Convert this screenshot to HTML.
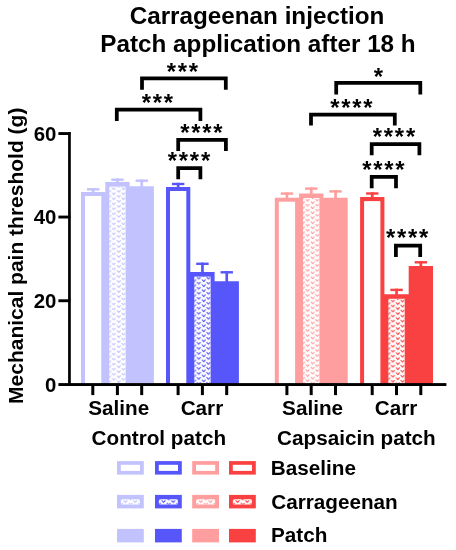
<!DOCTYPE html>
<html><head><meta charset="utf-8"><style>
html,body{margin:0;padding:0;background:#fff;}
svg{display:block;}
text{font-family:"Liberation Sans",Arial,sans-serif;font-weight:bold;fill:#000;}
.t{font-size:24.25px;text-anchor:middle;}
.n{font-size:20.7px;text-anchor:middle;}
.k{font-size:20.4px;text-anchor:end;}
.st{font-size:23.8px;letter-spacing:1.75px;text-anchor:middle;}
.lg{font-size:20.7px;}
</style></head><body>
<svg width="456" height="550" viewBox="0 0 456 550">
<defs>
<pattern id="pL1" patternUnits="userSpaceOnUse" width="9.6" height="5.0125" x="111.40" y="152.35"><path d="M0.90 0.50 L2.40 2.20 L3.90 0.50" fill="none" stroke="#C2C2FF" stroke-width="1.15" stroke-linecap="round" stroke-linejoin="round"/><path d="M5.90 3.01 L7.40 4.71 L8.90 3.01" fill="none" stroke="#C2C2FF" stroke-width="1.15" stroke-linecap="round" stroke-linejoin="round"/><path d="M5.90 -2.01 L7.40 -0.31 L8.90 -2.01" fill="none" stroke="#C2C2FF" stroke-width="1.15" stroke-linecap="round" stroke-linejoin="round"/><path d="M-3.70 3.01 L-2.20 4.71 L-0.70 3.01" fill="none" stroke="#C2C2FF" stroke-width="1.15" stroke-linecap="round" stroke-linejoin="round"/><path d="M-3.70 -2.01 L-2.20 -0.31 L-0.70 -2.01" fill="none" stroke="#C2C2FF" stroke-width="1.15" stroke-linecap="round" stroke-linejoin="round"/><path d="M10.50 0.50 L12.00 2.20 L13.50 0.50" fill="none" stroke="#C2C2FF" stroke-width="1.15" stroke-linecap="round" stroke-linejoin="round"/><path d="M0.90 5.51 L2.40 7.21 L3.90 5.51" fill="none" stroke="#C2C2FF" stroke-width="1.15" stroke-linecap="round" stroke-linejoin="round"/></pattern>
<pattern id="pB2" patternUnits="userSpaceOnUse" width="9.6" height="5.0125" x="196.40" y="151.55"><path d="M0.90 0.50 L2.40 2.20 L3.90 0.50" fill="none" stroke="#5656FA" stroke-width="1.15" stroke-linecap="round" stroke-linejoin="round"/><path d="M5.90 3.01 L7.40 4.71 L8.90 3.01" fill="none" stroke="#5656FA" stroke-width="1.15" stroke-linecap="round" stroke-linejoin="round"/><path d="M5.90 -2.01 L7.40 -0.31 L8.90 -2.01" fill="none" stroke="#5656FA" stroke-width="1.15" stroke-linecap="round" stroke-linejoin="round"/><path d="M-3.70 3.01 L-2.20 4.71 L-0.70 3.01" fill="none" stroke="#5656FA" stroke-width="1.15" stroke-linecap="round" stroke-linejoin="round"/><path d="M-3.70 -2.01 L-2.20 -0.31 L-0.70 -2.01" fill="none" stroke="#5656FA" stroke-width="1.15" stroke-linecap="round" stroke-linejoin="round"/><path d="M10.50 0.50 L12.00 2.20 L13.50 0.50" fill="none" stroke="#5656FA" stroke-width="1.15" stroke-linecap="round" stroke-linejoin="round"/><path d="M0.90 5.51 L2.40 7.21 L3.90 5.51" fill="none" stroke="#5656FA" stroke-width="1.15" stroke-linecap="round" stroke-linejoin="round"/></pattern>
<pattern id="pP3" patternUnits="userSpaceOnUse" width="9.6" height="5.0125" x="305.20" y="148.75"><path d="M0.90 0.50 L2.40 2.20 L3.90 0.50" fill="none" stroke="#FF9E9E" stroke-width="1.15" stroke-linecap="round" stroke-linejoin="round"/><path d="M5.90 3.01 L7.40 4.71 L8.90 3.01" fill="none" stroke="#FF9E9E" stroke-width="1.15" stroke-linecap="round" stroke-linejoin="round"/><path d="M5.90 -2.01 L7.40 -0.31 L8.90 -2.01" fill="none" stroke="#FF9E9E" stroke-width="1.15" stroke-linecap="round" stroke-linejoin="round"/><path d="M-3.70 3.01 L-2.20 4.71 L-0.70 3.01" fill="none" stroke="#FF9E9E" stroke-width="1.15" stroke-linecap="round" stroke-linejoin="round"/><path d="M-3.70 -2.01 L-2.20 -0.31 L-0.70 -2.01" fill="none" stroke="#FF9E9E" stroke-width="1.15" stroke-linecap="round" stroke-linejoin="round"/><path d="M10.50 0.50 L12.00 2.20 L13.50 0.50" fill="none" stroke="#FF9E9E" stroke-width="1.15" stroke-linecap="round" stroke-linejoin="round"/><path d="M0.90 5.51 L2.40 7.21 L3.90 5.51" fill="none" stroke="#FF9E9E" stroke-width="1.15" stroke-linecap="round" stroke-linejoin="round"/></pattern>
<pattern id="pR4" patternUnits="userSpaceOnUse" width="9.6" height="5.0125" x="390.50" y="149.35"><path d="M0.90 0.50 L2.40 2.20 L3.90 0.50" fill="none" stroke="#F94141" stroke-width="1.15" stroke-linecap="round" stroke-linejoin="round"/><path d="M5.90 3.01 L7.40 4.71 L8.90 3.01" fill="none" stroke="#F94141" stroke-width="1.15" stroke-linecap="round" stroke-linejoin="round"/><path d="M5.90 -2.01 L7.40 -0.31 L8.90 -2.01" fill="none" stroke="#F94141" stroke-width="1.15" stroke-linecap="round" stroke-linejoin="round"/><path d="M-3.70 3.01 L-2.20 4.71 L-0.70 3.01" fill="none" stroke="#F94141" stroke-width="1.15" stroke-linecap="round" stroke-linejoin="round"/><path d="M-3.70 -2.01 L-2.20 -0.31 L-0.70 -2.01" fill="none" stroke="#F94141" stroke-width="1.15" stroke-linecap="round" stroke-linejoin="round"/><path d="M10.50 0.50 L12.00 2.20 L13.50 0.50" fill="none" stroke="#F94141" stroke-width="1.15" stroke-linecap="round" stroke-linejoin="round"/><path d="M0.90 5.51 L2.40 7.21 L3.90 5.51" fill="none" stroke="#F94141" stroke-width="1.15" stroke-linecap="round" stroke-linejoin="round"/></pattern>
<pattern id="pL5" patternUnits="userSpaceOnUse" width="9.6" height="5.0125" x="123.20" y="299.75"><path d="M0.90 0.50 L2.40 2.20 L3.90 0.50" fill="none" stroke="#C2C2FF" stroke-width="1.15" stroke-linecap="round" stroke-linejoin="round"/><path d="M5.90 3.01 L7.40 4.71 L8.90 3.01" fill="none" stroke="#C2C2FF" stroke-width="1.15" stroke-linecap="round" stroke-linejoin="round"/><path d="M5.90 -2.01 L7.40 -0.31 L8.90 -2.01" fill="none" stroke="#C2C2FF" stroke-width="1.15" stroke-linecap="round" stroke-linejoin="round"/><path d="M-3.70 3.01 L-2.20 4.71 L-0.70 3.01" fill="none" stroke="#C2C2FF" stroke-width="1.15" stroke-linecap="round" stroke-linejoin="round"/><path d="M-3.70 -2.01 L-2.20 -0.31 L-0.70 -2.01" fill="none" stroke="#C2C2FF" stroke-width="1.15" stroke-linecap="round" stroke-linejoin="round"/><path d="M10.50 0.50 L12.00 2.20 L13.50 0.50" fill="none" stroke="#C2C2FF" stroke-width="1.15" stroke-linecap="round" stroke-linejoin="round"/><path d="M0.90 5.51 L2.40 7.21 L3.90 5.51" fill="none" stroke="#C2C2FF" stroke-width="1.15" stroke-linecap="round" stroke-linejoin="round"/></pattern>
<pattern id="pB6" patternUnits="userSpaceOnUse" width="9.6" height="5.0125" x="161.20" y="299.75"><path d="M0.90 0.50 L2.40 2.20 L3.90 0.50" fill="none" stroke="#5656FA" stroke-width="1.15" stroke-linecap="round" stroke-linejoin="round"/><path d="M5.90 3.01 L7.40 4.71 L8.90 3.01" fill="none" stroke="#5656FA" stroke-width="1.15" stroke-linecap="round" stroke-linejoin="round"/><path d="M5.90 -2.01 L7.40 -0.31 L8.90 -2.01" fill="none" stroke="#5656FA" stroke-width="1.15" stroke-linecap="round" stroke-linejoin="round"/><path d="M-3.70 3.01 L-2.20 4.71 L-0.70 3.01" fill="none" stroke="#5656FA" stroke-width="1.15" stroke-linecap="round" stroke-linejoin="round"/><path d="M-3.70 -2.01 L-2.20 -0.31 L-0.70 -2.01" fill="none" stroke="#5656FA" stroke-width="1.15" stroke-linecap="round" stroke-linejoin="round"/><path d="M10.50 0.50 L12.00 2.20 L13.50 0.50" fill="none" stroke="#5656FA" stroke-width="1.15" stroke-linecap="round" stroke-linejoin="round"/><path d="M0.90 5.51 L2.40 7.21 L3.90 5.51" fill="none" stroke="#5656FA" stroke-width="1.15" stroke-linecap="round" stroke-linejoin="round"/></pattern>
<pattern id="pP7" patternUnits="userSpaceOnUse" width="9.6" height="5.0125" x="198.40" y="299.75"><path d="M0.90 0.50 L2.40 2.20 L3.90 0.50" fill="none" stroke="#FF9E9E" stroke-width="1.15" stroke-linecap="round" stroke-linejoin="round"/><path d="M5.90 3.01 L7.40 4.71 L8.90 3.01" fill="none" stroke="#FF9E9E" stroke-width="1.15" stroke-linecap="round" stroke-linejoin="round"/><path d="M5.90 -2.01 L7.40 -0.31 L8.90 -2.01" fill="none" stroke="#FF9E9E" stroke-width="1.15" stroke-linecap="round" stroke-linejoin="round"/><path d="M-3.70 3.01 L-2.20 4.71 L-0.70 3.01" fill="none" stroke="#FF9E9E" stroke-width="1.15" stroke-linecap="round" stroke-linejoin="round"/><path d="M-3.70 -2.01 L-2.20 -0.31 L-0.70 -2.01" fill="none" stroke="#FF9E9E" stroke-width="1.15" stroke-linecap="round" stroke-linejoin="round"/><path d="M10.50 0.50 L12.00 2.20 L13.50 0.50" fill="none" stroke="#FF9E9E" stroke-width="1.15" stroke-linecap="round" stroke-linejoin="round"/><path d="M0.90 5.51 L2.40 7.21 L3.90 5.51" fill="none" stroke="#FF9E9E" stroke-width="1.15" stroke-linecap="round" stroke-linejoin="round"/></pattern>
<pattern id="pR8" patternUnits="userSpaceOnUse" width="9.6" height="5.0125" x="235.20" y="299.75"><path d="M0.90 0.50 L2.40 2.20 L3.90 0.50" fill="none" stroke="#F94141" stroke-width="1.15" stroke-linecap="round" stroke-linejoin="round"/><path d="M5.90 3.01 L7.40 4.71 L8.90 3.01" fill="none" stroke="#F94141" stroke-width="1.15" stroke-linecap="round" stroke-linejoin="round"/><path d="M5.90 -2.01 L7.40 -0.31 L8.90 -2.01" fill="none" stroke="#F94141" stroke-width="1.15" stroke-linecap="round" stroke-linejoin="round"/><path d="M-3.70 3.01 L-2.20 4.71 L-0.70 3.01" fill="none" stroke="#F94141" stroke-width="1.15" stroke-linecap="round" stroke-linejoin="round"/><path d="M-3.70 -2.01 L-2.20 -0.31 L-0.70 -2.01" fill="none" stroke="#F94141" stroke-width="1.15" stroke-linecap="round" stroke-linejoin="round"/><path d="M10.50 0.50 L12.00 2.20 L13.50 0.50" fill="none" stroke="#F94141" stroke-width="1.15" stroke-linecap="round" stroke-linejoin="round"/><path d="M0.90 5.51 L2.40 7.21 L3.90 5.51" fill="none" stroke="#F94141" stroke-width="1.15" stroke-linecap="round" stroke-linejoin="round"/></pattern>
</defs>
<text class="t" x="257.0" y="24.4">Carrageenan injection</text>
<text class="t" x="258.0" y="51.9">Patch application after 18 h</text>
<text class="n" transform="translate(22.9 255.75) rotate(-90)" style="font-size:21px">Mechanical pain threshold (g)</text>
<text x="56.4" y="140.5" class="k">60</text>
<text x="56.4" y="224" class="k">40</text>
<text x="56.4" y="307.9" class="k">20</text>
<text x="56.4" y="391.5" class="k">0</text>
<rect x="91.80" y="188.10" width="2.70" height="5.10" fill="#C2C2FF"/>
<rect x="86.95" y="188.10" width="12.40" height="2.40" fill="#C2C2FF"/>
<rect x="116.10" y="178.50" width="2.70" height="4.70" fill="#C2C2FF"/>
<rect x="111.25" y="178.50" width="12.40" height="2.40" fill="#C2C2FF"/>
<rect x="140.40" y="179.50" width="2.70" height="7.90" fill="#C2C2FF"/>
<rect x="135.55" y="179.50" width="12.40" height="2.40" fill="#C2C2FF"/>
<path d="M81.00 384.50 L81.00 192.00 L105.30 192.00 L105.30 182.00 L129.60 182.00 L129.60 186.20 L153.90 186.20 L153.90 384.50 Z" fill="#C2C2FF"/>
<rect x="85.00" y="196.00" width="16.30" height="188.50" fill="#fff"/>
<rect x="109.30" y="186.60" width="16.30" height="197.90" fill="#fff"/>
<rect x="109.30" y="186.60" width="16.30" height="197.90" fill="url(#pL1)"/>
<rect x="176.80" y="182.80" width="2.70" height="5.40" fill="#5656FA"/>
<rect x="171.95" y="182.80" width="12.40" height="2.40" fill="#5656FA"/>
<rect x="201.10" y="262.60" width="2.70" height="10.60" fill="#5656FA"/>
<rect x="196.25" y="262.60" width="12.40" height="2.40" fill="#5656FA"/>
<rect x="225.40" y="271.10" width="2.70" height="11.30" fill="#5656FA"/>
<rect x="220.55" y="271.10" width="12.40" height="2.40" fill="#5656FA"/>
<path d="M166.00 384.50 L166.00 187.00 L190.30 187.00 L190.30 272.00 L214.60 272.00 L214.60 281.20 L238.90 281.20 L238.90 384.50 Z" fill="#5656FA"/>
<rect x="170.00" y="191.00" width="16.30" height="193.50" fill="#fff"/>
<rect x="194.30" y="276.60" width="16.30" height="107.90" fill="#fff"/>
<rect x="194.30" y="276.60" width="16.30" height="107.90" fill="url(#pB2)"/>
<rect x="285.60" y="192.40" width="2.70" height="6.50" fill="#FF9E9E"/>
<rect x="280.75" y="192.40" width="12.40" height="2.40" fill="#FF9E9E"/>
<rect x="309.90" y="187.40" width="2.70" height="7.20" fill="#FF9E9E"/>
<rect x="305.05" y="187.40" width="12.40" height="2.40" fill="#FF9E9E"/>
<rect x="334.20" y="190.20" width="2.70" height="8.70" fill="#FF9E9E"/>
<rect x="329.35" y="190.20" width="12.40" height="2.40" fill="#FF9E9E"/>
<path d="M274.80 384.50 L274.80 197.70 L299.10 197.70 L299.10 193.40 L323.40 193.40 L323.40 197.70 L347.70 197.70 L347.70 384.50 Z" fill="#FF9E9E"/>
<rect x="278.80" y="201.70" width="16.30" height="182.80" fill="#fff"/>
<rect x="303.10" y="198.00" width="16.30" height="186.50" fill="#fff"/>
<rect x="303.10" y="198.00" width="16.30" height="186.50" fill="url(#pP3)"/>
<rect x="370.90" y="192.30" width="2.70" height="6.00" fill="#F94141"/>
<rect x="366.05" y="192.30" width="12.40" height="2.40" fill="#F94141"/>
<rect x="395.20" y="288.70" width="2.70" height="6.70" fill="#F94141"/>
<rect x="390.35" y="288.70" width="12.40" height="2.40" fill="#F94141"/>
<rect x="419.50" y="261.10" width="2.70" height="6.20" fill="#F94141"/>
<rect x="414.65" y="261.10" width="12.40" height="2.40" fill="#F94141"/>
<path d="M360.10 384.50 L360.10 197.10 L384.40 197.10 L384.40 294.20 L408.70 294.20 L408.70 266.10 L433.00 266.10 L433.00 384.50 Z" fill="#F94141"/>
<rect x="364.10" y="201.10" width="16.30" height="183.40" fill="#fff"/>
<rect x="388.40" y="298.80" width="16.30" height="85.70" fill="#fff"/>
<rect x="388.40" y="298.80" width="16.30" height="85.70" fill="url(#pR4)"/>
<g fill="#000">
<rect x="68.1" y="132" width="2.7" height="254"/>
<rect x="58.4" y="132.1" width="12" height="2.9"/>
<rect x="58.4" y="215.6" width="12" height="2.9"/>
<rect x="58.4" y="299.3" width="12" height="2.9"/>
<rect x="58.4" y="383.1" width="388" height="2.9"/>
<rect x="91.30" y="385" width="3" height="10.1"/>
<rect x="115.90" y="385" width="3" height="10.1"/>
<rect x="140.20" y="385" width="3" height="10.1"/>
<rect x="176.60" y="385" width="3" height="10.1"/>
<rect x="200.90" y="385" width="3" height="10.1"/>
<rect x="225.20" y="385" width="3" height="10.1"/>
<rect x="285.40" y="385" width="3" height="10.1"/>
<rect x="309.70" y="385" width="3" height="10.1"/>
<rect x="334.00" y="385" width="3" height="10.1"/>
<rect x="370.70" y="385" width="3" height="10.1"/>
<rect x="395.00" y="385" width="3" height="10.1"/>
<rect x="419.30" y="385" width="3" height="10.1"/>
</g>
<text class="n" x="118.8" y="415.3">Saline</text>
<text class="n" x="201.95" y="415.3">Carr</text>
<text class="n" x="312.6" y="415.3">Saline</text>
<text class="n" x="396.0" y="415.3">Carr</text>
<text class="n" x="158.8" y="445.4">Control patch</text>
<text class="n" x="356.45" y="445.4">Capsaicin patch</text>
<path d="M142.00 89.70V78.30H225.80V89.70" fill="none" stroke="#000" stroke-width="3.75" stroke-linejoin="miter"/>
<text x="183.38" y="80.12" class="st">***</text>
<path d="M116.80 121.00V109.50H200.40V121.00" fill="none" stroke="#000" stroke-width="3.75" stroke-linejoin="miter"/>
<text x="158.18" y="110.72" class="st">***</text>
<path d="M178.20 151.00V139.80H225.90V151.00" fill="none" stroke="#000" stroke-width="3.75" stroke-linejoin="miter"/>
<text x="202.28" y="141.02" class="st">****</text>
<path d="M178.20 179.30V168.10H200.40V179.30" fill="none" stroke="#000" stroke-width="3.75" stroke-linejoin="miter"/>
<text x="189.88" y="169.12" class="st">****</text>
<path d="M336.20 94.40V82.80H420.30V94.40" fill="none" stroke="#000" stroke-width="3.75" stroke-linejoin="miter"/>
<text x="379.18" y="84.92" class="st">*</text>
<path d="M311.00 125.50V114.50H394.80V125.50" fill="none" stroke="#000" stroke-width="3.75" stroke-linejoin="miter"/>
<text x="352.27" y="116.12" class="st">****</text>
<path d="M371.70 155.20V144.00H419.40V155.20" fill="none" stroke="#000" stroke-width="3.75" stroke-linejoin="miter"/>
<text x="394.88" y="144.82" class="st">****</text>
<path d="M371.70 188.20V176.90H396.00V188.20" fill="none" stroke="#000" stroke-width="3.75" stroke-linejoin="miter"/>
<text x="384.18" y="177.92" class="st">****</text>
<path d="M395.90 257.00V245.70H420.20V257.00" fill="none" stroke="#000" stroke-width="3.75" stroke-linejoin="miter"/>
<text x="408.07" y="246.22" class="st">****</text>
<rect x="117.00" y="461.10" width="26.8" height="13.5" fill="#C2C2FF"/>
<rect x="120.80" y="464.80" width="19.20" height="6.10" fill="#fff"/>
<rect x="117.00" y="494.90" width="26.8" height="13.5" fill="#C2C2FF"/>
<rect x="120.90" y="499.20" width="19.00" height="5.3" rx="1.2" fill="#fff"/>
<rect x="120.90" y="499.20" width="19.00" height="5.3" rx="1.2" fill="url(#pL5)"/>
<rect x="117.00" y="528.90" width="26.8" height="13.5" fill="#C2C2FF"/>
<rect x="155.00" y="461.10" width="26.8" height="13.5" fill="#5656FA"/>
<rect x="158.80" y="464.80" width="19.20" height="6.10" fill="#fff"/>
<rect x="155.00" y="494.90" width="26.8" height="13.5" fill="#5656FA"/>
<rect x="158.90" y="499.20" width="19.00" height="5.3" rx="1.2" fill="#fff"/>
<rect x="158.90" y="499.20" width="19.00" height="5.3" rx="1.2" fill="url(#pB6)"/>
<rect x="155.00" y="528.90" width="26.8" height="13.5" fill="#5656FA"/>
<rect x="192.20" y="461.10" width="26.8" height="13.5" fill="#FF9E9E"/>
<rect x="196.00" y="464.80" width="19.20" height="6.10" fill="#fff"/>
<rect x="192.20" y="494.90" width="26.8" height="13.5" fill="#FF9E9E"/>
<rect x="196.10" y="499.20" width="19.00" height="5.3" rx="1.2" fill="#fff"/>
<rect x="196.10" y="499.20" width="19.00" height="5.3" rx="1.2" fill="url(#pP7)"/>
<rect x="192.20" y="528.90" width="26.8" height="13.5" fill="#FF9E9E"/>
<rect x="229.00" y="461.10" width="26.8" height="13.5" fill="#F94141"/>
<rect x="232.80" y="464.80" width="19.20" height="6.10" fill="#fff"/>
<rect x="229.00" y="494.90" width="26.8" height="13.5" fill="#F94141"/>
<rect x="232.90" y="499.20" width="19.00" height="5.3" rx="1.2" fill="#fff"/>
<rect x="232.90" y="499.20" width="19.00" height="5.3" rx="1.2" fill="url(#pR8)"/>
<rect x="229.00" y="528.90" width="26.8" height="13.5" fill="#F94141"/>
<text class="lg" x="270.8" y="474.9">Baseline</text>
<text class="lg" x="271.2" y="508.5">Carrageenan</text>
<text class="lg" x="271.0" y="542.4">Patch</text>
</svg>
</body></html>
